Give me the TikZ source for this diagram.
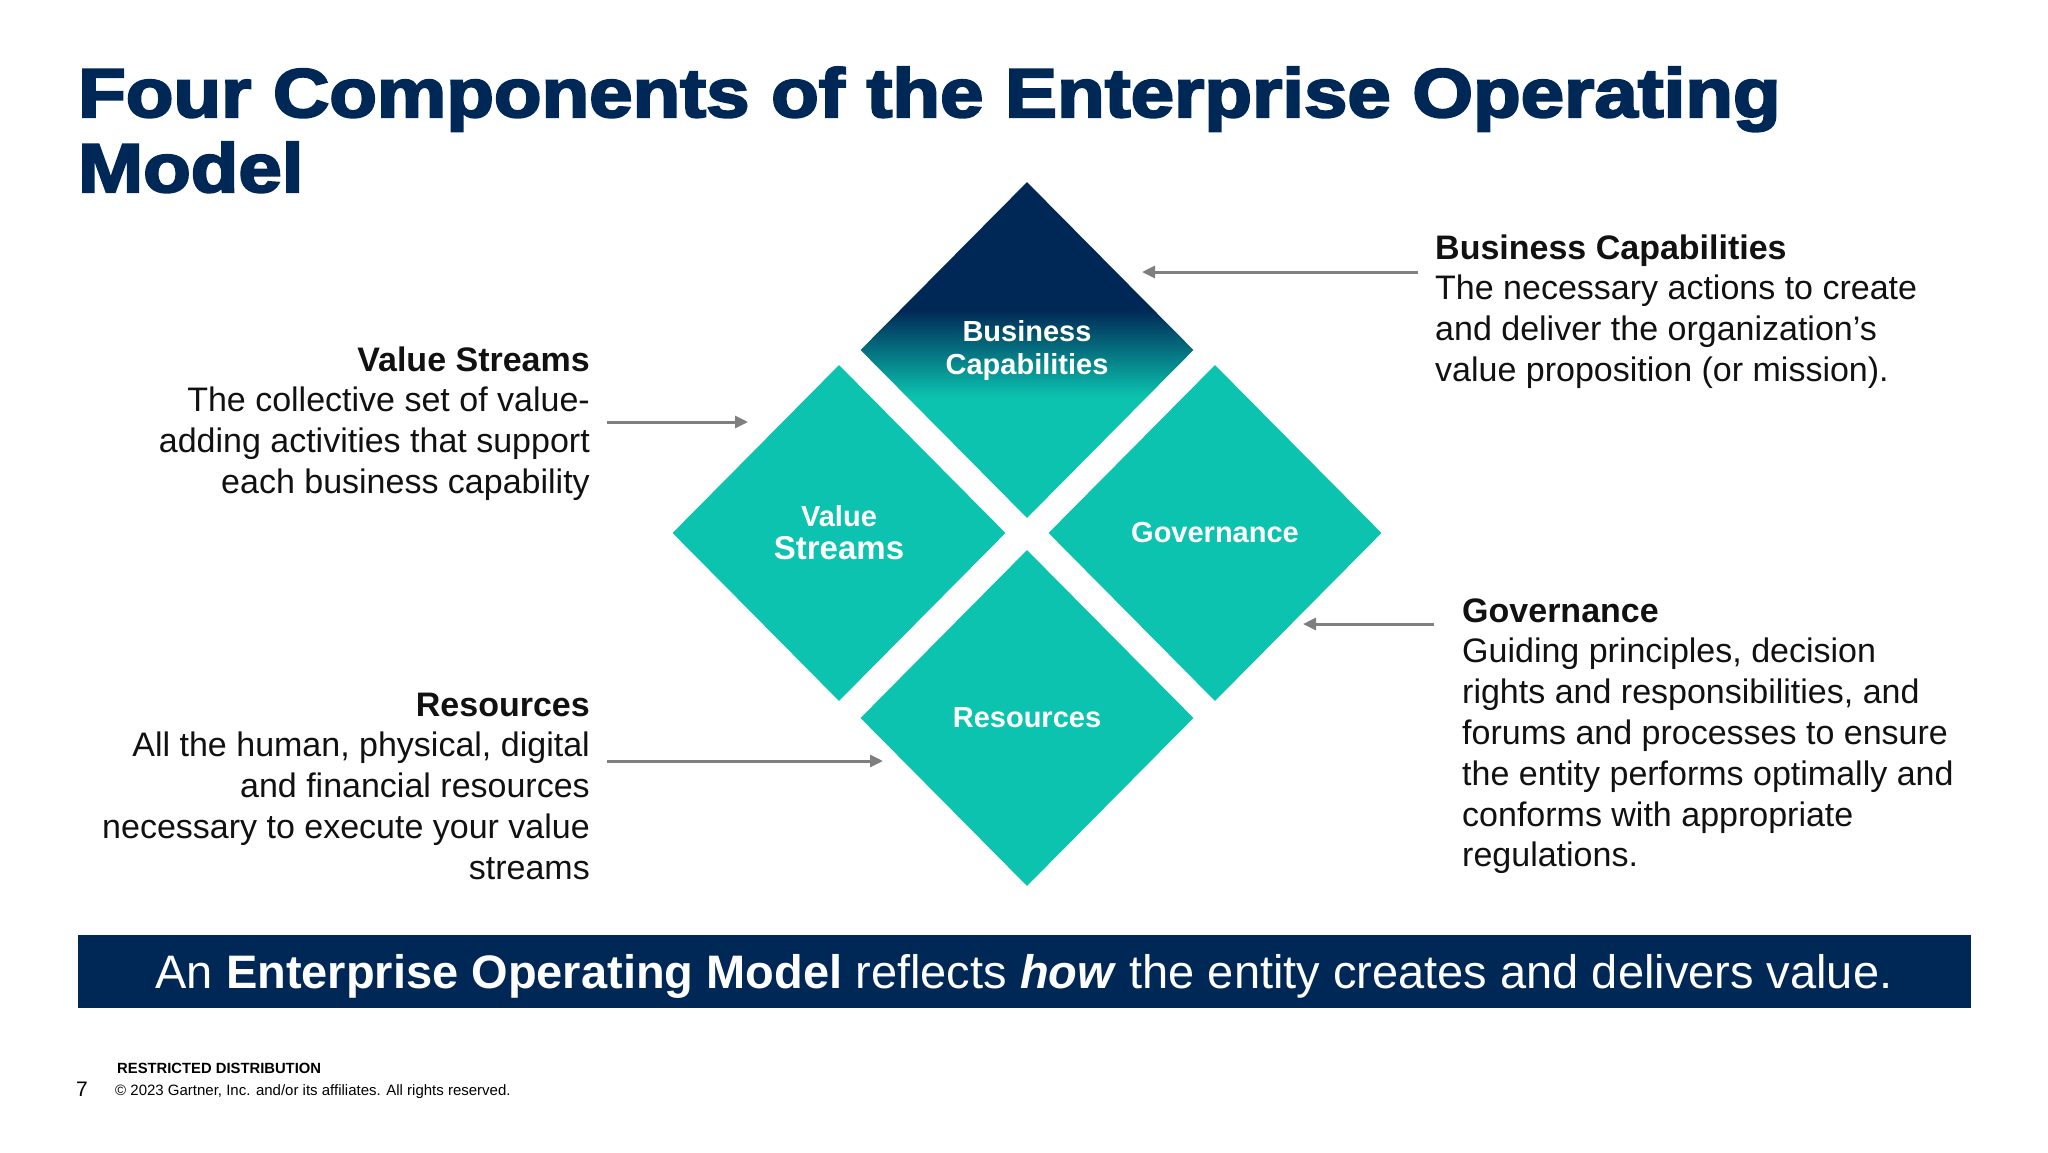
\documentclass[tikz,border=0pt]{standalone}
\usepackage{graphicx}
\usepackage{fontspec}
\setmainfont{Liberation Sans}
\newfontfamily\titlefam{Liberation Sans}[BoldFeatures={FakeBold=3}]
\usetikzlibrary{shapes.geometric,arrows.meta}
\definecolor{gnavy}{HTML}{002856}
\definecolor{gteal}{HTML}{0BC3AF}
\definecolor{arrowgray}{HTML}{7F7F7F}
\definecolor{bodyblack}{HTML}{111111}
\pgfdeclareverticalshading{bcshade}{100bp}{color(0bp)=(gteal); color(43bp)=(gteal); color(56bp)=(gnavy); color(100bp)=(gnavy)}
\tikzset{
  dia/.style={diamond, minimum width=333pt, minimum height=336pt, inner sep=0pt,
    fill=gteal, text=white, align=center, font=\bfseries\fontsize{29}{33}\selectfont},
  bodytext/.style={inner sep=0pt, text=bodyblack, font=\fontsize{34}{40.8}\selectfont},
  pointer/.style={draw=arrowgray, line width=3pt, -{Triangle[length=13pt,width=12pt]}},
  titletext/.style={anchor=base west, inner sep=0pt, text=gnavy, font=\titlefam\bfseries\fontsize{69}{74}\selectfont},
  foot/.style={anchor=base west, inner sep=0pt, text=black}
}
\begin{document}
\begin{tikzpicture}[x=1pt,y=-1pt]
\useasboundingbox[fill=white] (0,0) rectangle (2048,1152);

% title
\node[titletext] (title1) at (78,117) {\scalebox{1.13}[1]{Four Components of the Enterprise Operating}};
\node[titletext] (title2) at (78,192) {\scalebox{1.13}[1]{Model}};

% diamonds
\node[dia, fill=none, shading=bcshade] (bc) at (1027,350) {Business\\Capabilities};
\node[dia] (vs) at (839,533) {\fontsize{29}{36}\selectfont Value\\\fontsize{33}{36}\selectfont Streams};
\node[dia] (gov) at (1215,533) {Governance};
\node[dia] (res) at (1027,718) {Resources};

% descriptions
\node[bodytext, anchor=north east, align=right] (vstext) at (590,342.3)
  {\strut\textbf{Value Streams}\\The collective set of value-\\adding activities that support\\each business capability};
\node[bodytext, anchor=north east, align=right] (restext) at (590,687.3)
  {\strut\textbf{Resources}\\All the human, physical, digital\\and financial resources\\necessary to execute your value\\streams};
\node[bodytext, anchor=north west, align=left] (bctext) at (1435,230.3)
  {\strut\textbf{Business Capabilities}\\The necessary actions to create\\and deliver the organization’s\\value proposition (or mission).};
\node[bodytext, anchor=north west, align=left] (govtext) at (1462,593.3)
  {\strut\textbf{Governance}\\Guiding principles, decision\\rights and responsibilities, and\\forums and processes to ensure\\the entity performs optimally and\\conforms with appropriate\\regulations.};

% arrows
\coordinate (bcA) at (1418,272); \coordinate (bcB) at (1142,272);
\coordinate (vsA) at (607,422);  \coordinate (vsB) at (748,422);
\coordinate (rsA) at (607,761);  \coordinate (rsB) at (883,761);
\coordinate (gvA) at (1434,624); \coordinate (gvB) at (1303,624);
\draw[pointer] (bcA) -- (bcB);
\draw[pointer] (vsA) -- (vsB);
\draw[pointer] (rsA) -- (rsB);
\draw[pointer] (gvA) -- (gvB);

% banner
\node[fill=gnavy, minimum width=1893pt, minimum height=73pt, inner sep=0pt, anchor=north west] (banner) at (78,935) {};
\node[anchor=base, inner sep=0pt, text=white, font=\fontsize{47}{52}\selectfont] (bannertext) at (1024,988)
  {An \textbf{Enterprise Operating Model} reflects \textbf{\textit{how}} the entity creates and delivers value.};

% footer
\node[foot, font=\bfseries\fontsize{14.8}{17}\selectfont] (restr) at (117,1073) {RESTRICTED DISTRIBUTION};
\node[foot, font=\fontsize{15}{17}\selectfont] (copy) at (115,1095) {© 2023 Gartner, Inc. and/or its affiliates. All rights reserved.};
\node[foot, font=\fontsize{21}{24}\selectfont] (pagenum) at (76,1096) {7};
\end{tikzpicture}
\end{document}
